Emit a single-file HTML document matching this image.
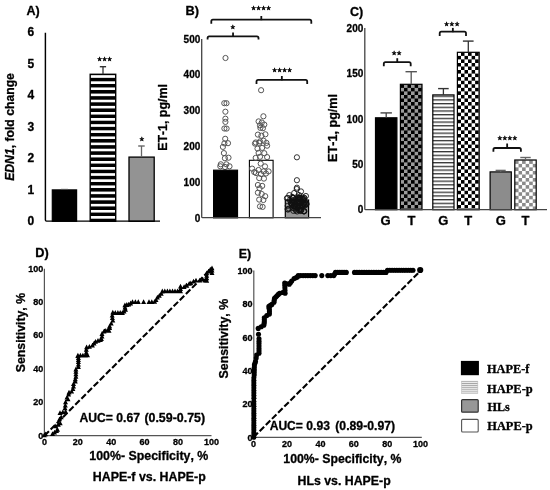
<!DOCTYPE html>
<html><head><meta charset="utf-8"><style>html,body{margin:0;padding:0;background:#fff;overflow:hidden;}svg{display:block;}.t{stroke:#000;stroke-width:0.3px;stroke-linejoin:round;}</style></head>
<body><svg width="550" height="490" viewBox="0 0 550 490"><defs><pattern id="stA" patternUnits="userSpaceOnUse" x="0" y="75.2" width="10" height="6.125"><rect width="10" height="6.125" fill="#000"/><rect width="10" height="2.6" fill="#fff"/></pattern><pattern id="ck1" patternUnits="userSpaceOnUse" x="400.4" y="84.3" width="7.1" height="7.1"><rect width="7.1" height="7.1" fill="#9a9a9a"/><rect width="3.55" height="3.55" fill="#000"/><rect x="3.55" y="3.55" width="3.55" height="3.55" fill="#000"/></pattern><pattern id="ck2" patternUnits="userSpaceOnUse" x="457.4" y="52.3" width="7.1" height="7.1"><rect width="7.1" height="7.1" fill="#000"/><rect width="3.55" height="3.55" fill="#fff"/><rect x="3.55" y="3.55" width="3.55" height="3.55" fill="#fff"/></pattern><pattern id="ck3" patternUnits="userSpaceOnUse" x="515" y="160.3" width="7.1" height="7.1"><rect width="7.1" height="7.1" fill="#fff"/><rect width="3.55" height="3.55" fill="#8a8a8a"/><rect x="3.55" y="3.55" width="3.55" height="3.55" fill="#8a8a8a"/></pattern><pattern id="stC" patternUnits="userSpaceOnUse" x="0" y="99.3" width="10" height="3.693"><rect width="10" height="3.693" fill="#fff"/><rect width="10" height="1.3" fill="#333"/></pattern><pattern id="stL" patternUnits="userSpaceOnUse" x="0" y="381.2" width="10" height="2.05"><rect width="10" height="2.05" fill="#fff"/><rect width="10" height="0.9" fill="#999"/></pattern></defs><rect width="550" height="490" fill="#fff"/>
<text class="t" x="34.30" y="224.96" font-size="12" font-weight="bold" text-anchor="end" font-family='"Liberation Sans", Arial, sans-serif' >0</text>
<text class="t" x="34.30" y="193.51" font-size="12" font-weight="bold" text-anchor="end" font-family='"Liberation Sans", Arial, sans-serif' >1</text>
<text class="t" x="34.30" y="162.06" font-size="12" font-weight="bold" text-anchor="end" font-family='"Liberation Sans", Arial, sans-serif' >2</text>
<text class="t" x="34.30" y="130.61" font-size="12" font-weight="bold" text-anchor="end" font-family='"Liberation Sans", Arial, sans-serif' >3</text>
<text class="t" x="34.30" y="99.16" font-size="12" font-weight="bold" text-anchor="end" font-family='"Liberation Sans", Arial, sans-serif' >4</text>
<text class="t" x="34.30" y="67.71" font-size="12" font-weight="bold" text-anchor="end" font-family='"Liberation Sans", Arial, sans-serif' >5</text>
<text class="t" x="34.30" y="36.26" font-size="12" font-weight="bold" text-anchor="end" font-family='"Liberation Sans", Arial, sans-serif' >6</text>
<rect x="52.30" y="189.90" width="24.30" height="31.40" fill="#000" stroke="#000" stroke-width="1.2"/>
<rect x="90.20" y="74.30" width="25.50" height="147.00" fill="url(#stA)" stroke="#000" stroke-width="1.4"/>
<rect x="129.00" y="157.10" width="25.20" height="64.20" fill="#939393" stroke="#000" stroke-width="1.3"/>
<line x1="103.00" y1="74.30" x2="103.00" y2="66.70" stroke="#333" stroke-width="1.3" />
<line x1="99.80" y1="66.70" x2="106.10" y2="66.70" stroke="#333" stroke-width="1.4" />
<line x1="141.50" y1="157.10" x2="141.50" y2="146.00" stroke="#666" stroke-width="1.3" />
<line x1="138.20" y1="146.00" x2="144.70" y2="146.00" stroke="#666" stroke-width="1.4" />
<line x1="61.00" y1="189.30" x2="68.00" y2="189.30" stroke="#555" stroke-width="0.8" />
<text x="97.02" y="60.90" font-size="5.8" font-family="DejaVu Sans, sans-serif" stroke="#000" stroke-width="0.45" stroke-linejoin="round">&#9733;</text>
<text x="102.02" y="60.90" font-size="5.8" font-family="DejaVu Sans, sans-serif" stroke="#000" stroke-width="0.45" stroke-linejoin="round">&#9733;</text>
<text x="107.02" y="60.90" font-size="5.8" font-family="DejaVu Sans, sans-serif" stroke="#000" stroke-width="0.45" stroke-linejoin="round">&#9733;</text>
<text x="139.32" y="140.90" font-size="5.8" font-family="DejaVu Sans, sans-serif" stroke="#000" stroke-width="0.45" stroke-linejoin="round">&#9733;</text>
<path d="M45.4,32.7 L45.4,220 Q45.4,221.1 46.5,221.1 L160,221.1" fill="none" stroke="#000" stroke-width="1.45"/>
<text class="t" x="200.30" y="221.85" font-size="10" font-weight="bold" text-anchor="end" font-family='"Liberation Sans", Arial, sans-serif' >0</text>
<text class="t" x="200.30" y="186.01" font-size="10" font-weight="bold" text-anchor="end" font-family='"Liberation Sans", Arial, sans-serif' >100</text>
<text class="t" x="200.30" y="150.17" font-size="10" font-weight="bold" text-anchor="end" font-family='"Liberation Sans", Arial, sans-serif' >200</text>
<text class="t" x="200.30" y="114.33" font-size="10" font-weight="bold" text-anchor="end" font-family='"Liberation Sans", Arial, sans-serif' >300</text>
<text class="t" x="200.30" y="78.49" font-size="10" font-weight="bold" text-anchor="end" font-family='"Liberation Sans", Arial, sans-serif' >400</text>
<text class="t" x="200.30" y="42.65" font-size="10" font-weight="bold" text-anchor="end" font-family='"Liberation Sans", Arial, sans-serif' >500</text>
<circle cx="225.5" cy="58" r="2.6" fill="none" stroke="#555" stroke-width="1"/><circle cx="224.3" cy="103.2" r="2.6" fill="none" stroke="#555" stroke-width="1"/><circle cx="226.5" cy="103.2" r="2.6" fill="none" stroke="#555" stroke-width="1"/><circle cx="225.4" cy="111.7" r="2.6" fill="none" stroke="#555" stroke-width="1"/><circle cx="225.4" cy="118.7" r="2.6" fill="none" stroke="#555" stroke-width="1"/><circle cx="225.4" cy="121.9" r="2.6" fill="none" stroke="#555" stroke-width="1"/><circle cx="224.4" cy="128.5" r="2.6" fill="none" stroke="#555" stroke-width="1"/><circle cx="226.6" cy="128.6" r="2.6" fill="none" stroke="#555" stroke-width="1"/><circle cx="225.2" cy="138.8" r="2.6" fill="none" stroke="#555" stroke-width="1"/><circle cx="228" cy="143.2" r="2.6" fill="none" stroke="#555" stroke-width="1"/><circle cx="224.4" cy="143.4" r="2.6" fill="none" stroke="#555" stroke-width="1"/><circle cx="222.9" cy="146.9" r="2.6" fill="none" stroke="#555" stroke-width="1"/><circle cx="223.9" cy="153.1" r="2.6" fill="none" stroke="#555" stroke-width="1"/><circle cx="224.9" cy="158.2" r="2.6" fill="none" stroke="#555" stroke-width="1"/><circle cx="228.5" cy="157.7" r="2.6" fill="none" stroke="#555" stroke-width="1"/><circle cx="220.8" cy="164.3" r="2.6" fill="none" stroke="#555" stroke-width="1"/><circle cx="226.4" cy="164.3" r="2.6" fill="none" stroke="#555" stroke-width="1"/><circle cx="229.5" cy="166.3" r="2.6" fill="none" stroke="#555" stroke-width="1"/><circle cx="220.3" cy="166.3" r="2.6" fill="none" stroke="#555" stroke-width="1"/><circle cx="225" cy="167" r="2.6" fill="none" stroke="#555" stroke-width="1"/>
<rect x="213.60" y="170.20" width="23.90" height="47.60" fill="#000" stroke="#000" stroke-width="1.2"/>
<rect x="249.40" y="160.30" width="23.70" height="57.50" fill="#fff" stroke="#000" stroke-width="1.1"/>
<rect x="285.30" y="200.00" width="23.30" height="17.80" fill="#999" stroke="#000" stroke-width="1.2"/>
<circle cx="261.1" cy="90.2" r="2.6" fill="none" stroke="#555" stroke-width="1"/><circle cx="263.4" cy="116.3" r="2.6" fill="none" stroke="#555" stroke-width="1"/><circle cx="258.6" cy="121.4" r="2.6" fill="none" stroke="#555" stroke-width="1"/><circle cx="261.8" cy="122.5" r="2.6" fill="none" stroke="#555" stroke-width="1"/><circle cx="264.3" cy="124.6" r="2.6" fill="none" stroke="#555" stroke-width="1"/><circle cx="260.0" cy="125.4" r="2.6" fill="none" stroke="#555" stroke-width="1"/><circle cx="260.4" cy="127.9" r="2.6" fill="none" stroke="#555" stroke-width="1"/><circle cx="262.9" cy="128.2" r="2.6" fill="none" stroke="#555" stroke-width="1"/><circle cx="257.9" cy="134.6" r="2.6" fill="none" stroke="#555" stroke-width="1"/><circle cx="261.4" cy="135.7" r="2.6" fill="none" stroke="#555" stroke-width="1"/><circle cx="265.4" cy="134.3" r="2.6" fill="none" stroke="#555" stroke-width="1"/><circle cx="255.7" cy="142.5" r="2.6" fill="none" stroke="#555" stroke-width="1"/><circle cx="260.0" cy="141.4" r="2.6" fill="none" stroke="#555" stroke-width="1"/><circle cx="263.6" cy="140.7" r="2.6" fill="none" stroke="#555" stroke-width="1"/><circle cx="266.4" cy="142.9" r="2.6" fill="none" stroke="#555" stroke-width="1"/><circle cx="255.0" cy="143.6" r="2.6" fill="none" stroke="#555" stroke-width="1"/><circle cx="259.3" cy="142.9" r="2.6" fill="none" stroke="#555" stroke-width="1"/><circle cx="267.1" cy="145.7" r="2.6" fill="none" stroke="#555" stroke-width="1"/><circle cx="257.5" cy="148.6" r="2.6" fill="none" stroke="#555" stroke-width="1"/><circle cx="262.1" cy="147.9" r="2.6" fill="none" stroke="#555" stroke-width="1"/><circle cx="258.6" cy="152.9" r="2.6" fill="none" stroke="#555" stroke-width="1"/><circle cx="264.3" cy="153.2" r="2.6" fill="none" stroke="#555" stroke-width="1"/><circle cx="255.7" cy="157.9" r="2.6" fill="none" stroke="#555" stroke-width="1"/><circle cx="260.0" cy="156.8" r="2.6" fill="none" stroke="#555" stroke-width="1"/><circle cx="267.1" cy="157.1" r="2.6" fill="none" stroke="#555" stroke-width="1"/><circle cx="265.0" cy="166.4" r="2.6" fill="none" stroke="#555" stroke-width="1"/><circle cx="260.7" cy="163.6" r="2.6" fill="none" stroke="#555" stroke-width="1"/><circle cx="258.6" cy="170.0" r="2.6" fill="none" stroke="#555" stroke-width="1"/><circle cx="254.3" cy="172.1" r="2.6" fill="none" stroke="#555" stroke-width="1"/><circle cx="263.6" cy="171.4" r="2.6" fill="none" stroke="#555" stroke-width="1"/><circle cx="268.6" cy="171.4" r="2.6" fill="none" stroke="#555" stroke-width="1"/><circle cx="252.1" cy="168.6" r="2.6" fill="none" stroke="#555" stroke-width="1"/><circle cx="256.0" cy="173.0" r="2.6" fill="none" stroke="#555" stroke-width="1"/><circle cx="266.0" cy="173.5" r="2.6" fill="none" stroke="#555" stroke-width="1"/><circle cx="261.0" cy="174.0" r="2.6" fill="none" stroke="#555" stroke-width="1"/><circle cx="259.2" cy="178.1" r="2.6" fill="none" stroke="#555" stroke-width="1"/><circle cx="263.9" cy="178.6" r="2.6" fill="none" stroke="#555" stroke-width="1"/><circle cx="257.9" cy="185.0" r="2.6" fill="none" stroke="#555" stroke-width="1"/><circle cx="262.2" cy="185.9" r="2.6" fill="none" stroke="#555" stroke-width="1"/><circle cx="259.6" cy="188.4" r="2.6" fill="none" stroke="#555" stroke-width="1"/><circle cx="257.9" cy="192.7" r="2.6" fill="none" stroke="#555" stroke-width="1"/><circle cx="261.7" cy="194.0" r="2.6" fill="none" stroke="#555" stroke-width="1"/><circle cx="265.2" cy="196.2" r="2.6" fill="none" stroke="#555" stroke-width="1"/><circle cx="259.2" cy="199.6" r="2.6" fill="none" stroke="#555" stroke-width="1"/><circle cx="263.4" cy="200.0" r="2.6" fill="none" stroke="#555" stroke-width="1"/><circle cx="260.0" cy="206.4" r="2.6" fill="none" stroke="#555" stroke-width="1"/><circle cx="262.6" cy="206.9" r="2.6" fill="none" stroke="#555" stroke-width="1"/>
<circle cx="296.9" cy="157.3" r="2.6" fill="none" stroke="#111" stroke-width="0.85"/><circle cx="296.9" cy="180.2" r="2.6" fill="none" stroke="#111" stroke-width="0.85"/><circle cx="296.9" cy="187.7" r="2.6" fill="none" stroke="#111" stroke-width="0.85"/><circle cx="296.7" cy="189.0" r="2.6" fill="none" stroke="#111" stroke-width="0.85"/><circle cx="301.0" cy="191.4" r="2.6" fill="none" stroke="#111" stroke-width="0.85"/><circle cx="294.2" cy="193.0" r="2.6" fill="none" stroke="#111" stroke-width="0.85"/><circle cx="289.3" cy="195.1" r="2.6" fill="none" stroke="#111" stroke-width="0.85"/><circle cx="305.9" cy="196.0" r="2.6" fill="none" stroke="#111" stroke-width="0.85"/><circle cx="286.9" cy="198.2" r="2.6" fill="none" stroke="#111" stroke-width="0.85"/><circle cx="292.0" cy="197.0" r="2.6" fill="none" stroke="#111" stroke-width="0.85"/><circle cx="299.0" cy="195.0" r="2.6" fill="none" stroke="#111" stroke-width="0.85"/><circle cx="303.0" cy="199.0" r="2.6" fill="none" stroke="#111" stroke-width="0.85"/><circle cx="291.9" cy="204.9" r="2.6" fill="none" stroke="#111" stroke-width="0.85"/><circle cx="294.5" cy="205.8" r="2.6" fill="none" stroke="#111" stroke-width="0.85"/><circle cx="299.4" cy="198.0" r="2.6" fill="none" stroke="#111" stroke-width="0.85"/><circle cx="287.6" cy="209.1" r="2.6" fill="none" stroke="#111" stroke-width="0.85"/><circle cx="292.3" cy="200.4" r="2.6" fill="none" stroke="#111" stroke-width="0.85"/><circle cx="306.6" cy="203.8" r="2.6" fill="none" stroke="#111" stroke-width="0.85"/><circle cx="303.5" cy="203.9" r="2.6" fill="none" stroke="#111" stroke-width="0.85"/><circle cx="299.7" cy="199.2" r="2.6" fill="none" stroke="#111" stroke-width="0.85"/><circle cx="299.6" cy="209.6" r="2.6" fill="none" stroke="#111" stroke-width="0.85"/><circle cx="297.4" cy="207.7" r="2.6" fill="none" stroke="#111" stroke-width="0.85"/><circle cx="300.3" cy="197.9" r="2.6" fill="none" stroke="#111" stroke-width="0.85"/><circle cx="302.0" cy="205.6" r="2.6" fill="none" stroke="#111" stroke-width="0.85"/><circle cx="293.1" cy="197.4" r="2.6" fill="none" stroke="#111" stroke-width="0.85"/><circle cx="304.1" cy="203.9" r="2.6" fill="none" stroke="#111" stroke-width="0.85"/><circle cx="301.2" cy="209.7" r="2.6" fill="none" stroke="#111" stroke-width="0.85"/><circle cx="301.2" cy="210.4" r="2.6" fill="none" stroke="#111" stroke-width="0.85"/><circle cx="295.0" cy="208.6" r="2.6" fill="none" stroke="#111" stroke-width="0.85"/><circle cx="295.9" cy="210.6" r="2.6" fill="none" stroke="#111" stroke-width="0.85"/><circle cx="304.4" cy="198.4" r="2.6" fill="none" stroke="#111" stroke-width="0.85"/><circle cx="289.9" cy="200.1" r="2.6" fill="none" stroke="#111" stroke-width="0.85"/><circle cx="306.0" cy="203.3" r="2.6" fill="none" stroke="#111" stroke-width="0.85"/><circle cx="299.5" cy="201.4" r="2.6" fill="none" stroke="#111" stroke-width="0.85"/><circle cx="297.1" cy="202.6" r="2.6" fill="none" stroke="#111" stroke-width="0.85"/><circle cx="294.1" cy="205.5" r="2.6" fill="none" stroke="#111" stroke-width="0.85"/><circle cx="298.6" cy="210.1" r="2.6" fill="none" stroke="#111" stroke-width="0.85"/><circle cx="300.5" cy="210.5" r="2.6" fill="none" stroke="#111" stroke-width="0.85"/><circle cx="303.9" cy="211.4" r="2.6" fill="none" stroke="#111" stroke-width="0.85"/><circle cx="300.3" cy="199.4" r="2.6" fill="none" stroke="#111" stroke-width="0.85"/><circle cx="304.0" cy="211.0" r="2.6" fill="none" stroke="#111" stroke-width="0.85"/><circle cx="304.9" cy="205.3" r="2.6" fill="none" stroke="#111" stroke-width="0.85"/><circle cx="301.1" cy="200.1" r="2.6" fill="none" stroke="#111" stroke-width="0.85"/><circle cx="303.4" cy="205.3" r="2.6" fill="none" stroke="#111" stroke-width="0.85"/><circle cx="292.8" cy="197.9" r="2.6" fill="none" stroke="#111" stroke-width="0.85"/><circle cx="303.9" cy="211.4" r="2.6" fill="none" stroke="#111" stroke-width="0.85"/><circle cx="289.0" cy="208.6" r="2.6" fill="none" stroke="#111" stroke-width="0.85"/><circle cx="295.3" cy="199.2" r="2.6" fill="none" stroke="#111" stroke-width="0.85"/><circle cx="293.0" cy="208.1" r="2.6" fill="none" stroke="#111" stroke-width="0.85"/><circle cx="304.2" cy="197.6" r="2.6" fill="none" stroke="#111" stroke-width="0.85"/><circle cx="299.2" cy="197.7" r="2.6" fill="none" stroke="#111" stroke-width="0.85"/><circle cx="301.2" cy="201.8" r="2.6" fill="none" stroke="#111" stroke-width="0.85"/><circle cx="304.4" cy="211.2" r="2.6" fill="none" stroke="#111" stroke-width="0.85"/><circle cx="297.1" cy="211.5" r="2.6" fill="none" stroke="#111" stroke-width="0.85"/><circle cx="293.3" cy="198.1" r="2.6" fill="none" stroke="#111" stroke-width="0.85"/><circle cx="298.9" cy="197.5" r="2.6" fill="none" stroke="#111" stroke-width="0.85"/><circle cx="291.1" cy="202.9" r="2.6" fill="none" stroke="#111" stroke-width="0.85"/><circle cx="299.1" cy="199.3" r="2.6" fill="none" stroke="#111" stroke-width="0.85"/><circle cx="288.1" cy="209.6" r="2.6" fill="none" stroke="#111" stroke-width="0.85"/><circle cx="293.4" cy="210.9" r="2.6" fill="none" stroke="#111" stroke-width="0.85"/><circle cx="304.7" cy="202.5" r="2.6" fill="none" stroke="#111" stroke-width="0.85"/><circle cx="296.2" cy="204.5" r="2.6" fill="none" stroke="#111" stroke-width="0.85"/><circle cx="299.8" cy="205.6" r="2.6" fill="none" stroke="#111" stroke-width="0.85"/><circle cx="298.1" cy="206.0" r="2.6" fill="none" stroke="#111" stroke-width="0.85"/><circle cx="305.5" cy="204.4" r="2.6" fill="none" stroke="#111" stroke-width="0.85"/><circle cx="295.7" cy="207.4" r="2.6" fill="none" stroke="#111" stroke-width="0.85"/><circle cx="291.9" cy="201.4" r="2.6" fill="none" stroke="#111" stroke-width="0.85"/><circle cx="306.3" cy="204.6" r="2.6" fill="none" stroke="#111" stroke-width="0.85"/><circle cx="297.9" cy="197.2" r="2.6" fill="none" stroke="#111" stroke-width="0.85"/><circle cx="295.4" cy="205.4" r="2.6" fill="none" stroke="#111" stroke-width="0.85"/><circle cx="287.7" cy="205.9" r="2.6" fill="none" stroke="#111" stroke-width="0.85"/><circle cx="299.6" cy="197.9" r="2.6" fill="none" stroke="#111" stroke-width="0.85"/><circle cx="299.5" cy="203.8" r="2.6" fill="none" stroke="#111" stroke-width="0.85"/><circle cx="300.5" cy="202.1" r="2.6" fill="none" stroke="#111" stroke-width="0.85"/><circle cx="301.0" cy="207.7" r="2.6" fill="none" stroke="#111" stroke-width="0.85"/><circle cx="287.7" cy="197.9" r="2.6" fill="none" stroke="#111" stroke-width="0.85"/><circle cx="300.4" cy="211.0" r="2.6" fill="none" stroke="#111" stroke-width="0.85"/><circle cx="292.2" cy="203.6" r="2.6" fill="none" stroke="#111" stroke-width="0.85"/><circle cx="298.8" cy="201.6" r="2.6" fill="none" stroke="#111" stroke-width="0.85"/><circle cx="294.4" cy="201.5" r="2.6" fill="none" stroke="#111" stroke-width="0.85"/><circle cx="294.5" cy="205.6" r="2.6" fill="none" stroke="#111" stroke-width="0.85"/><circle cx="293.1" cy="202.5" r="2.6" fill="none" stroke="#111" stroke-width="0.85"/><circle cx="302.3" cy="197.4" r="2.6" fill="none" stroke="#111" stroke-width="0.85"/><circle cx="298.3" cy="207.7" r="2.6" fill="none" stroke="#111" stroke-width="0.85"/><circle cx="293.3" cy="200.2" r="2.6" fill="none" stroke="#111" stroke-width="0.85"/><circle cx="302.9" cy="200.5" r="2.6" fill="none" stroke="#111" stroke-width="0.85"/><circle cx="290.9" cy="203.3" r="2.6" fill="none" stroke="#111" stroke-width="0.85"/><circle cx="300.8" cy="198.5" r="2.6" fill="none" stroke="#111" stroke-width="0.85"/><circle cx="293.5" cy="201.8" r="2.6" fill="none" stroke="#111" stroke-width="0.85"/><circle cx="303.5" cy="203.4" r="2.6" fill="none" stroke="#111" stroke-width="0.85"/><circle cx="303.9" cy="199.5" r="2.6" fill="none" stroke="#111" stroke-width="0.85"/><circle cx="293.8" cy="206.4" r="2.6" fill="none" stroke="#111" stroke-width="0.85"/>
<path d="M201.7,39 L201.7,216.8 Q201.7,217.7 202.6,217.7 L321,217.7" fill="none" stroke="#444" stroke-width="1.3"/>
<path d="M211.30,23.70 L211.30,21.30 Q211.30,19.70 212.90,19.70 L309.70,19.70 Q311.30,19.70 311.30,21.30 L311.30,23.70" fill="none" stroke="#111" stroke-width="1.8"/>
<line x1="261.30" y1="20.20" x2="261.30" y2="16.00" stroke="#111" stroke-width="1.8" />
<text x="251.12" y="9.60" font-size="5.8" font-family="DejaVu Sans, sans-serif" stroke="#000" stroke-width="0.45" stroke-linejoin="round">&#9733;</text>
<text x="256.12" y="9.60" font-size="5.8" font-family="DejaVu Sans, sans-serif" stroke="#000" stroke-width="0.45" stroke-linejoin="round">&#9733;</text>
<text x="261.12" y="9.60" font-size="5.8" font-family="DejaVu Sans, sans-serif" stroke="#000" stroke-width="0.45" stroke-linejoin="round">&#9733;</text>
<text x="266.12" y="9.60" font-size="5.8" font-family="DejaVu Sans, sans-serif" stroke="#000" stroke-width="0.45" stroke-linejoin="round">&#9733;</text>
<path d="M207.60,39.40 L207.60,38.00 Q207.60,36.40 209.20,36.40 L256.90,36.40 Q258.50,36.40 258.50,38.00 L258.50,39.40" fill="none" stroke="#111" stroke-width="1.8"/>
<line x1="233.05" y1="36.90" x2="233.05" y2="32.60" stroke="#111" stroke-width="1.8" />
<text x="230.22" y="28.90" font-size="5.8" font-family="DejaVu Sans, sans-serif" stroke="#000" stroke-width="0.45" stroke-linejoin="round">&#9733;</text>
<path d="M256.50,83.90 L256.50,81.50 Q256.50,79.90 258.10,79.90 L305.60,79.90 Q307.20,79.90 307.20,81.50 L307.20,83.90" fill="none" stroke="#111" stroke-width="1.8"/>
<line x1="281.85" y1="80.40" x2="281.85" y2="76.00" stroke="#111" stroke-width="1.8" />
<text x="272.12" y="71.80" font-size="5.8" font-family="DejaVu Sans, sans-serif" stroke="#000" stroke-width="0.45" stroke-linejoin="round">&#9733;</text>
<text x="277.12" y="71.80" font-size="5.8" font-family="DejaVu Sans, sans-serif" stroke="#000" stroke-width="0.45" stroke-linejoin="round">&#9733;</text>
<text x="282.12" y="71.80" font-size="5.8" font-family="DejaVu Sans, sans-serif" stroke="#000" stroke-width="0.45" stroke-linejoin="round">&#9733;</text>
<text x="287.12" y="71.80" font-size="5.8" font-family="DejaVu Sans, sans-serif" stroke="#000" stroke-width="0.45" stroke-linejoin="round">&#9733;</text>
<text class="t" x="363.30" y="213.45" font-size="10" font-weight="bold" text-anchor="end" font-family='"Liberation Sans", Arial, sans-serif' >0</text>
<text class="t" x="363.30" y="168.00" font-size="10" font-weight="bold" text-anchor="end" font-family='"Liberation Sans", Arial, sans-serif' >50</text>
<text class="t" x="363.30" y="122.55" font-size="10" font-weight="bold" text-anchor="end" font-family='"Liberation Sans", Arial, sans-serif' >100</text>
<text class="t" x="363.30" y="77.10" font-size="10" font-weight="bold" text-anchor="end" font-family='"Liberation Sans", Arial, sans-serif' >150</text>
<text class="t" x="363.30" y="31.65" font-size="10" font-weight="bold" text-anchor="end" font-family='"Liberation Sans", Arial, sans-serif' >200</text>
<rect x="375.50" y="117.80" width="21.40" height="91.90" fill="#000" stroke="#000" stroke-width="1.2"/>
<rect x="400.40" y="84.30" width="21.60" height="125.40" fill="url(#ck1)" stroke="#000" stroke-width="1.2"/>
<rect x="432.80" y="94.90" width="21.20" height="114.80" fill="url(#stC)" stroke="#000" stroke-width="1.2"/>
<rect x="457.40" y="52.30" width="21.80" height="157.40" fill="url(#ck2)" stroke="#000" stroke-width="1.2"/>
<rect x="490.10" y="171.90" width="21.20" height="37.80" fill="#8c8c8c" stroke="#000" stroke-width="1.2"/>
<rect x="514.80" y="160.00" width="21.40" height="49.70" fill="url(#ck3)" stroke="#000" stroke-width="1.2"/>
<line x1="386.20" y1="117.80" x2="386.20" y2="112.90" stroke="#444" stroke-width="1.3" />
<line x1="380.50" y1="112.90" x2="391.90" y2="112.90" stroke="#444" stroke-width="1.4" />
<line x1="411.20" y1="84.30" x2="411.20" y2="71.70" stroke="#555" stroke-width="1.3" />
<line x1="405.50" y1="71.70" x2="416.90" y2="71.70" stroke="#555" stroke-width="1.4" />
<line x1="443.40" y1="94.90" x2="443.40" y2="88.60" stroke="#333" stroke-width="1.3" />
<line x1="438.10" y1="88.60" x2="448.70" y2="88.60" stroke="#333" stroke-width="1.4" />
<line x1="468.30" y1="52.30" x2="468.30" y2="41.10" stroke="#333" stroke-width="1.3" />
<line x1="462.90" y1="41.10" x2="473.60" y2="41.10" stroke="#333" stroke-width="1.4" />
<line x1="500.70" y1="171.90" x2="500.70" y2="170.40" stroke="#666" stroke-width="1.3" />
<line x1="495.60" y1="170.40" x2="505.70" y2="170.40" stroke="#666" stroke-width="1.4" />
<line x1="525.50" y1="160.00" x2="525.50" y2="157.50" stroke="#666" stroke-width="1.3" />
<line x1="520.30" y1="157.50" x2="530.70" y2="157.50" stroke="#666" stroke-width="1.4" />
<path d="M364.8,28 L364.8,208.8 Q364.8,209.7 365.7,209.7 L547,209.7" fill="none" stroke="#444" stroke-width="1.3"/>
<path d="M383.80,66.20 L383.80,63.80 Q383.80,62.20 385.40,62.20 L409.10,62.20 Q410.70,62.20 410.70,63.80 L410.70,66.20" fill="none" stroke="#111" stroke-width="1.8"/>
<line x1="397.25" y1="62.70" x2="397.25" y2="58.20" stroke="#111" stroke-width="1.8" />
<text x="391.52" y="55.30" font-size="5.8" font-family="DejaVu Sans, sans-serif" stroke="#000" stroke-width="0.45" stroke-linejoin="round">&#9733;</text>
<text x="396.62" y="55.30" font-size="5.8" font-family="DejaVu Sans, sans-serif" stroke="#000" stroke-width="0.45" stroke-linejoin="round">&#9733;</text>
<path d="M439.70,36.00 L439.70,33.30 Q439.70,31.70 441.30,31.70 L464.40,31.70 Q466.00,31.70 466.00,33.30 L466.00,36.00" fill="none" stroke="#111" stroke-width="1.8"/>
<line x1="452.85" y1="32.20" x2="452.85" y2="27.90" stroke="#111" stroke-width="1.8" />
<text x="443.92" y="25.70" font-size="5.8" font-family="DejaVu Sans, sans-serif" stroke="#000" stroke-width="0.45" stroke-linejoin="round">&#9733;</text>
<text x="449.17" y="25.70" font-size="5.8" font-family="DejaVu Sans, sans-serif" stroke="#000" stroke-width="0.45" stroke-linejoin="round">&#9733;</text>
<text x="454.42" y="25.70" font-size="5.8" font-family="DejaVu Sans, sans-serif" stroke="#000" stroke-width="0.45" stroke-linejoin="round">&#9733;</text>
<path d="M493.40,151.70 L493.40,149.60 Q493.40,148.00 495.00,148.00 L519.30,148.00 Q520.90,148.00 520.90,149.60 L520.90,151.70" fill="none" stroke="#111" stroke-width="1.8"/>
<line x1="507.15" y1="148.50" x2="507.15" y2="143.50" stroke="#111" stroke-width="1.8" />
<text x="497.22" y="140.20" font-size="5.8" font-family="DejaVu Sans, sans-serif" stroke="#000" stroke-width="0.45" stroke-linejoin="round">&#9733;</text>
<text x="502.22" y="140.20" font-size="5.8" font-family="DejaVu Sans, sans-serif" stroke="#000" stroke-width="0.45" stroke-linejoin="round">&#9733;</text>
<text x="507.22" y="140.20" font-size="5.8" font-family="DejaVu Sans, sans-serif" stroke="#000" stroke-width="0.45" stroke-linejoin="round">&#9733;</text>
<text x="512.22" y="140.20" font-size="5.8" font-family="DejaVu Sans, sans-serif" stroke="#000" stroke-width="0.45" stroke-linejoin="round">&#9733;</text>
<text class="t" x="385.60" y="225.30" font-size="13" font-weight="bold" text-anchor="middle" font-family='"Liberation Sans", Arial, sans-serif' >G</text>
<text class="t" x="411.40" y="225.30" font-size="13" font-weight="bold" text-anchor="middle" font-family='"Liberation Sans", Arial, sans-serif' >T</text>
<text class="t" x="443.40" y="225.30" font-size="13" font-weight="bold" text-anchor="middle" font-family='"Liberation Sans", Arial, sans-serif' >G</text>
<text class="t" x="468.30" y="225.30" font-size="13" font-weight="bold" text-anchor="middle" font-family='"Liberation Sans", Arial, sans-serif' >T</text>
<text class="t" x="500.70" y="225.30" font-size="13" font-weight="bold" text-anchor="middle" font-family='"Liberation Sans", Arial, sans-serif' >G</text>
<text class="t" x="525.50" y="225.30" font-size="13" font-weight="bold" text-anchor="middle" font-family='"Liberation Sans", Arial, sans-serif' >T</text>
<text class="t" x="43.20" y="438.69" font-size="9" font-weight="bold" text-anchor="end" font-family='"Liberation Sans", Arial, sans-serif' >0</text>
<text class="t" x="43.20" y="405.25" font-size="9" font-weight="bold" text-anchor="end" font-family='"Liberation Sans", Arial, sans-serif' >20</text>
<text class="t" x="43.20" y="371.81" font-size="9" font-weight="bold" text-anchor="end" font-family='"Liberation Sans", Arial, sans-serif' >40</text>
<text class="t" x="43.20" y="338.38" font-size="9" font-weight="bold" text-anchor="end" font-family='"Liberation Sans", Arial, sans-serif' >60</text>
<text class="t" x="43.20" y="304.94" font-size="9" font-weight="bold" text-anchor="end" font-family='"Liberation Sans", Arial, sans-serif' >80</text>
<text class="t" x="43.20" y="271.50" font-size="9" font-weight="bold" text-anchor="end" font-family='"Liberation Sans", Arial, sans-serif' >100</text>
<text class="t" x="44.40" y="444.50" font-size="9" font-weight="bold" text-anchor="middle" font-family='"Liberation Sans", Arial, sans-serif' >0</text>
<text class="t" x="77.80" y="444.50" font-size="9" font-weight="bold" text-anchor="middle" font-family='"Liberation Sans", Arial, sans-serif' >20</text>
<text class="t" x="111.20" y="444.50" font-size="9" font-weight="bold" text-anchor="middle" font-family='"Liberation Sans", Arial, sans-serif' >40</text>
<text class="t" x="144.60" y="444.50" font-size="9" font-weight="bold" text-anchor="middle" font-family='"Liberation Sans", Arial, sans-serif' >60</text>
<text class="t" x="178.00" y="444.50" font-size="9" font-weight="bold" text-anchor="middle" font-family='"Liberation Sans", Arial, sans-serif' >80</text>
<text class="t" x="211.40" y="444.50" font-size="9" font-weight="bold" text-anchor="middle" font-family='"Liberation Sans", Arial, sans-serif' >100</text>
<path d="M44.4,268.8 L44.4,435.6 L211.5,435.6" fill="none" stroke="#555" stroke-width="1.2"/>
<line x1="44.50" y1="435.60" x2="211.50" y2="268.40" stroke="#000" stroke-width="2.1" stroke-dasharray="6.3 2.4"/>
<path d="M41.80,437.20L44.30,432.40L46.80,437.20ZM43.00,436.20L45.50,431.40L48.00,436.20ZM50.00,436.00L52.50,431.20L55.00,436.00ZM52.00,434.50L54.50,429.70L57.00,434.50ZM54.00,433.00L56.50,428.20L59.00,433.00ZM55.00,431.80L57.50,427.00L60.00,431.80ZM53.30,428.20L55.80,423.40L58.30,428.20ZM55.80,426.70L58.30,421.90L60.80,426.70ZM57.70,425.20L60.20,420.40L62.70,425.20ZM57.00,421.20L59.50,416.40L62.00,421.20ZM58.70,419.20L61.20,414.40L63.70,419.20ZM57.50,415.00L60.00,410.20L62.50,415.00ZM60.30,414.30L62.80,409.50L65.30,414.30ZM63.10,413.70L65.60,408.90L68.10,413.70ZM62.50,410.20L65.00,405.40L67.50,410.20ZM62.80,407.50L65.30,402.70L67.80,407.50ZM63.00,404.20L65.50,399.40L68.00,404.20ZM65.50,401.20L68.00,396.40L70.50,401.20ZM64.50,399.50L67.00,394.70L69.50,399.50ZM66.10,396.50L68.60,391.70L71.10,396.50ZM66.50,394.50L69.00,389.70L71.50,394.50ZM69.10,393.50L71.60,388.70L74.10,393.50ZM70.40,391.00L72.90,386.20L75.40,391.00ZM71.00,388.50L73.50,383.70L76.00,388.50ZM71.00,386.10L73.50,381.30L76.00,386.10ZM72.80,383.50L75.30,378.70L77.80,383.50ZM72.80,381.20L75.30,376.40L77.80,381.20ZM73.40,378.80L75.90,374.00L78.40,378.80ZM73.40,376.30L75.90,371.50L78.40,376.30ZM73.40,373.80L75.90,369.00L78.40,373.80ZM73.40,371.40L75.90,366.60L78.40,371.40ZM75.90,369.00L78.40,364.20L80.90,369.00ZM75.90,366.50L78.40,361.70L80.90,366.50ZM75.90,364.00L78.40,359.20L80.90,364.00ZM75.90,362.00L78.40,357.20L80.90,362.00ZM75.90,360.00L78.40,355.20L80.90,360.00ZM75.40,358.00L77.90,353.20L80.40,358.00ZM75.40,357.50L77.90,352.70L80.40,357.50ZM77.90,357.50L80.40,352.70L82.90,357.50ZM80.40,357.50L82.90,352.70L85.40,357.50ZM82.90,357.50L85.40,352.70L87.90,357.50ZM85.00,357.30L87.50,352.50L90.00,357.30ZM83.80,354.50L86.30,349.70L88.80,354.50ZM83.80,351.80L86.30,347.00L88.80,351.80ZM84.10,349.30L86.60,344.50L89.10,349.30ZM86.90,348.70L89.40,343.90L91.90,348.70ZM89.90,347.50L92.40,342.70L94.90,347.50ZM91.50,345.50L94.00,340.70L96.50,345.50ZM93.00,343.80L95.50,339.00L98.00,343.80ZM95.50,342.80L98.00,338.00L100.50,342.80ZM97.90,342.00L100.40,337.20L102.90,342.00ZM98.90,341.00L101.40,336.20L103.90,341.00ZM99.50,338.50L102.00,333.70L104.50,338.50ZM99.50,335.90L102.00,331.10L104.50,335.90ZM101.50,333.50L104.00,328.70L106.50,333.50ZM102.70,332.70L105.20,327.90L107.70,332.70ZM104.70,332.70L107.20,327.90L109.70,332.70ZM106.50,332.70L109.00,327.90L111.50,332.70ZM107.10,330.00L109.60,325.20L112.10,330.00ZM107.10,328.30L109.60,323.50L112.10,328.30ZM108.70,325.50L111.20,320.70L113.70,325.50ZM110.30,322.50L112.80,317.70L115.30,322.50ZM109.90,320.00L112.40,315.20L114.90,320.00ZM109.70,317.50L112.20,312.70L114.70,317.50ZM110.30,314.50L112.80,309.70L115.30,314.50ZM112.80,314.90L115.30,310.10L117.80,314.90ZM115.40,314.90L117.90,310.10L120.40,314.90ZM117.70,314.90L120.20,310.10L122.70,314.90ZM119.90,314.90L122.40,310.10L124.90,314.90ZM121.50,313.50L124.00,308.70L126.50,313.50ZM123.00,311.70L125.50,306.90L128.00,311.70ZM122.50,309.50L125.00,304.70L127.50,309.50ZM122.40,307.30L124.90,302.50L127.40,307.30ZM124.30,306.90L126.80,302.10L129.30,306.90ZM126.20,306.60L128.70,301.80L131.20,306.60ZM128.10,305.40L130.60,300.60L133.10,305.40ZM130.00,304.10L132.50,299.30L135.00,304.10ZM132.90,304.10L135.40,299.30L137.90,304.10ZM135.80,304.10L138.30,299.30L140.80,304.10ZM141.10,304.10L143.60,299.30L146.10,304.10ZM146.50,304.10L149.00,299.30L151.50,304.10ZM149.30,304.10L151.80,299.30L154.30,304.10ZM152.10,303.80L154.60,299.00L157.10,303.80ZM153.50,302.00L156.00,297.20L158.50,302.00ZM154.90,299.60L157.40,294.80L159.90,299.60ZM156.80,297.70L159.30,292.90L161.80,297.70ZM158.70,295.80L161.20,291.00L163.70,295.80ZM159.80,293.40L162.30,288.60L164.80,293.40ZM162.30,293.20L164.80,288.40L167.30,293.20ZM164.90,293.20L167.40,288.40L169.90,293.20ZM167.40,293.20L169.90,288.40L172.40,293.20ZM170.00,293.20L172.50,288.40L175.00,293.20ZM172.50,293.20L175.00,288.40L177.50,293.20ZM175.00,293.20L177.50,288.40L180.00,293.20ZM178.00,293.20L180.50,288.40L183.00,293.20ZM178.00,291.00L180.50,286.20L183.00,291.00ZM178.00,288.50L180.50,283.70L183.00,288.50ZM181.60,289.00L184.10,284.20L186.60,289.00ZM183.80,287.50L186.30,282.70L188.80,287.50ZM184.30,287.70L186.80,282.90L189.30,287.70ZM186.70,285.70L189.20,280.90L191.70,285.70ZM188.30,285.20L190.80,280.40L193.30,285.20ZM191.00,283.50L193.50,278.70L196.00,283.50ZM193.50,282.60L196.00,277.80L198.50,282.60ZM197.20,282.50L199.70,277.70L202.20,282.50ZM200.30,281.60L202.80,276.80L205.30,281.60ZM202.50,282.50L205.00,277.70L207.50,282.50ZM204.20,282.80L206.70,278.00L209.20,282.80ZM204.20,280.30L206.70,275.50L209.20,280.30ZM204.20,277.80L206.70,273.00L209.20,277.80ZM204.20,275.30L206.70,270.50L209.20,275.30ZM206.00,273.50L208.50,268.70L211.00,273.50ZM207.80,271.50L210.30,266.70L212.80,271.50ZM209.50,270.20L212.00,265.40L214.50,270.20ZM209.50,272.50L212.00,267.70L214.50,272.50ZM209.50,275.00L212.00,270.20L214.50,275.00Z" fill="#000"/>
<text class="t" x="252.60" y="440.50" font-size="9" font-weight="bold" text-anchor="end" font-family='"Liberation Sans", Arial, sans-serif' >0</text>
<text class="t" x="252.60" y="407.19" font-size="9" font-weight="bold" text-anchor="end" font-family='"Liberation Sans", Arial, sans-serif' >20</text>
<text class="t" x="252.60" y="373.90" font-size="9" font-weight="bold" text-anchor="end" font-family='"Liberation Sans", Arial, sans-serif' >40</text>
<text class="t" x="252.60" y="340.59" font-size="9" font-weight="bold" text-anchor="end" font-family='"Liberation Sans", Arial, sans-serif' >60</text>
<text class="t" x="252.60" y="307.30" font-size="9" font-weight="bold" text-anchor="end" font-family='"Liberation Sans", Arial, sans-serif' >80</text>
<text class="t" x="252.60" y="274.00" font-size="9" font-weight="bold" text-anchor="end" font-family='"Liberation Sans", Arial, sans-serif' >100</text>
<text class="t" x="253.60" y="446.60" font-size="9" font-weight="bold" text-anchor="middle" font-family='"Liberation Sans", Arial, sans-serif' >0</text>
<text class="t" x="287.00" y="446.60" font-size="9" font-weight="bold" text-anchor="middle" font-family='"Liberation Sans", Arial, sans-serif' >20</text>
<text class="t" x="320.40" y="446.60" font-size="9" font-weight="bold" text-anchor="middle" font-family='"Liberation Sans", Arial, sans-serif' >40</text>
<text class="t" x="353.80" y="446.60" font-size="9" font-weight="bold" text-anchor="middle" font-family='"Liberation Sans", Arial, sans-serif' >60</text>
<text class="t" x="387.20" y="446.60" font-size="9" font-weight="bold" text-anchor="middle" font-family='"Liberation Sans", Arial, sans-serif' >80</text>
<text class="t" x="420.60" y="446.60" font-size="9" font-weight="bold" text-anchor="middle" font-family='"Liberation Sans", Arial, sans-serif' >100</text>
<path d="M253.8,270.6 L253.8,437.4 L421.8,437.4" fill="none" stroke="#555" stroke-width="1.2"/>
<line x1="253.50" y1="437.30" x2="420.10" y2="271.20" stroke="#000" stroke-width="2.1" stroke-dasharray="6.3 2.4"/>
<g fill="#000"><circle cx="253.9" cy="437.3" r="2.55"/><circle cx="253.9" cy="434.9" r="2.55"/><circle cx="253.9" cy="432.5" r="2.55"/><circle cx="253.9" cy="430.1" r="2.55"/><circle cx="253.9" cy="427.8" r="2.55"/><circle cx="253.9" cy="425.4" r="2.55"/><circle cx="253.9" cy="423.0" r="2.55"/><circle cx="253.9" cy="420.6" r="2.55"/><circle cx="253.9" cy="418.2" r="2.55"/><circle cx="253.9" cy="415.8" r="2.55"/><circle cx="253.9" cy="413.4" r="2.55"/><circle cx="253.9" cy="411.0" r="2.55"/><circle cx="253.9" cy="408.7" r="2.55"/><circle cx="253.9" cy="406.3" r="2.55"/><circle cx="253.9" cy="403.9" r="2.55"/><circle cx="253.9" cy="401.5" r="2.55"/><circle cx="253.9" cy="398.2" r="2.55"/><circle cx="253.9" cy="395.6" r="2.55"/><circle cx="253.9" cy="393.1" r="2.55"/><circle cx="253.9" cy="390.6" r="2.55"/><circle cx="253.9" cy="388.0" r="2.55"/><circle cx="253.9" cy="385.4" r="2.55"/><circle cx="253.9" cy="382.9" r="2.55"/><circle cx="253.9" cy="380.4" r="2.55"/><circle cx="253.9" cy="377.8" r="2.55"/><circle cx="254.2" cy="375.0" r="2.55"/><circle cx="254.2" cy="372.5" r="2.55"/><circle cx="254.3" cy="370.0" r="2.55"/><circle cx="254.3" cy="367.5" r="2.55"/><circle cx="254.4" cy="365.0" r="2.55"/><circle cx="254.9" cy="363.2" r="2.55"/><circle cx="255.5" cy="361.5" r="2.55"/><circle cx="256.2" cy="358.0" r="2.55"/><circle cx="256.6" cy="355.0" r="2.55"/><circle cx="259.0" cy="353.3" r="2.55"/><circle cx="259.0" cy="350.9" r="2.55"/><circle cx="259.0" cy="348.5" r="2.55"/><circle cx="259.0" cy="346.1" r="2.55"/><circle cx="259.0" cy="343.6" r="2.55"/><circle cx="259.0" cy="341.2" r="2.55"/><circle cx="259.0" cy="338.8" r="2.55"/><circle cx="258.5" cy="334.2" r="2.55"/><circle cx="258.2" cy="328.4" r="2.55"/><circle cx="261.2" cy="326.8" r="2.55"/><circle cx="263.8" cy="325.3" r="2.55"/><circle cx="264.1" cy="323.5" r="2.55"/><circle cx="264.3" cy="321.7" r="2.55"/><circle cx="264.3" cy="319.7" r="2.55"/><circle cx="264.3" cy="317.7" r="2.55"/><circle cx="266.8" cy="315.6" r="2.55"/><circle cx="269.4" cy="314.1" r="2.55"/><circle cx="269.4" cy="312.1" r="2.55"/><circle cx="269.4" cy="310.0" r="2.55"/><circle cx="269.1" cy="308.2" r="2.55"/><circle cx="268.9" cy="306.4" r="2.55"/><circle cx="270.4" cy="305.4" r="2.55"/><circle cx="271.9" cy="304.4" r="2.55"/><circle cx="274.0" cy="302.3" r="2.55"/><circle cx="274.2" cy="300.3" r="2.55"/><circle cx="274.5" cy="298.3" r="2.55"/><circle cx="275.8" cy="297.0" r="2.55"/><circle cx="277.0" cy="295.7" r="2.55"/><circle cx="278.3" cy="294.4" r="2.55"/><circle cx="279.6" cy="293.2" r="2.55"/><circle cx="282.7" cy="292.5" r="2.55"/><circle cx="285.1" cy="293.3" r="2.55"/><circle cx="285.0" cy="290.6" r="2.55"/><circle cx="284.9" cy="288.0" r="2.55"/><circle cx="284.8" cy="285.6" r="2.55"/><circle cx="284.7" cy="283.1" r="2.55"/><circle cx="286.9" cy="283.7" r="2.55"/><circle cx="289.2" cy="284.3" r="2.55"/><circle cx="290.4" cy="282.7" r="2.55"/><circle cx="291.7" cy="281.1" r="2.55"/><circle cx="294.1" cy="278.6" r="2.55"/><circle cx="295.8" cy="277.8" r="2.55"/><circle cx="297.4" cy="277.0" r="2.55"/><circle cx="298.2" cy="275.6" r="2.55"/><circle cx="300.6" cy="275.6" r="2.55"/><circle cx="303.1" cy="275.6" r="2.55"/><circle cx="305.5" cy="275.6" r="2.55"/><circle cx="307.9" cy="275.6" r="2.55"/><circle cx="310.3" cy="275.6" r="2.55"/><circle cx="312.8" cy="275.6" r="2.55"/><circle cx="315.2" cy="275.6" r="2.55"/><circle cx="321.8" cy="275.6" r="2.55"/><circle cx="327.8" cy="275.6" r="2.55"/><circle cx="330.8" cy="275.6" r="2.55"/><circle cx="333.8" cy="275.6" r="2.55"/><circle cx="334.6" cy="274.0" r="2.55"/><circle cx="335.5" cy="272.4" r="2.55"/><circle cx="337.7" cy="272.4" r="2.55"/><circle cx="339.8" cy="272.4" r="2.55"/><circle cx="342.0" cy="272.4" r="2.55"/><circle cx="344.1" cy="272.4" r="2.55"/><circle cx="346.3" cy="272.4" r="2.55"/><circle cx="354.5" cy="272.4" r="2.55"/><circle cx="356.9" cy="272.4" r="2.55"/><circle cx="359.3" cy="272.4" r="2.55"/><circle cx="361.8" cy="272.4" r="2.55"/><circle cx="364.2" cy="272.4" r="2.55"/><circle cx="366.6" cy="272.4" r="2.55"/><circle cx="369.0" cy="272.4" r="2.55"/><circle cx="371.5" cy="272.4" r="2.55"/><circle cx="373.9" cy="272.4" r="2.55"/><circle cx="376.3" cy="272.4" r="2.55"/><circle cx="378.7" cy="272.4" r="2.55"/><circle cx="381.2" cy="272.4" r="2.55"/><circle cx="383.6" cy="272.4" r="2.55"/><circle cx="386.0" cy="272.4" r="2.55"/><circle cx="387.5" cy="270.2" r="2.55"/><circle cx="389.8" cy="270.2" r="2.55"/><circle cx="392.1" cy="270.2" r="2.55"/><circle cx="394.5" cy="270.2" r="2.55"/><circle cx="396.8" cy="270.2" r="2.55"/><circle cx="399.1" cy="270.2" r="2.55"/><circle cx="401.4" cy="270.2" r="2.55"/><circle cx="403.7" cy="270.2" r="2.55"/><circle cx="406.0" cy="270.2" r="2.55"/><circle cx="408.4" cy="270.2" r="2.55"/><circle cx="410.7" cy="270.2" r="2.55"/><circle cx="413.0" cy="270.2" r="2.55"/><circle cx="420.2" cy="270" r="3.1"/></g>
<rect x="461.50" y="361.50" width="16.80" height="13.10" fill="#000" stroke="#000" stroke-width="1.2"/>
<rect x="461.60" y="381.20" width="16.20" height="12.30" fill="url(#stL)" stroke="#bbb" stroke-width="0.6"/>
<rect x="461.6" y="399.6" width="16.6" height="12.6" rx="1" fill="#979797" stroke="#333" stroke-width="1.2"/>
<rect x="461.6" y="419.4" width="16.6" height="12.6" rx="1" fill="#fff" stroke="#555" stroke-width="1.1"/>
<text class="t" transform="translate(26.42,14.80) scale(0.9961,1)" font-size="12.6" font-weight="bold" font-family='"Liberation Sans", Arial, sans-serif' style="font-kerning:none;font-variant-ligatures:none">A)</text>
<text class="t" transform="translate(14.00,180.84) rotate(-90) scale(0.9690,1)" font-size="12.6" font-weight="bold" font-family='"Liberation Sans", Arial, sans-serif' style="font-kerning:none;font-variant-ligatures:none"><tspan font-style="italic">EDN1</tspan>, fold change</text>
<text class="t" transform="translate(185.51,14.80) scale(1.0132,1)" font-size="12.6" font-weight="bold" font-family='"Liberation Sans", Arial, sans-serif' style="font-kerning:none;font-variant-ligatures:none">B)</text>
<text class="t" transform="translate(167.10,150.87) rotate(-90) scale(1.0000,1)" font-size="12.4" font-weight="bold" font-family='"Liberation Sans", Arial, sans-serif' style="font-kerning:none;font-variant-ligatures:none">ET-1, pg/ml</text>
<text class="t" transform="translate(349.90,16.30) scale(0.9982,1)" font-size="12.6" font-weight="bold" font-family='"Liberation Sans", Arial, sans-serif' style="font-kerning:none;font-variant-ligatures:none">C)</text>
<text class="t" transform="translate(337.30,161.88) rotate(-90) scale(1.0169,1)" font-size="12.4" font-weight="bold" font-family='"Liberation Sans", Arial, sans-serif' style="font-kerning:none;font-variant-ligatures:none">ET-1, pg/ml</text>
<text class="t" transform="translate(35.21,256.50) scale(1.0132,1)" font-size="12.6" font-weight="bold" font-family='"Liberation Sans", Arial, sans-serif' style="font-kerning:none;font-variant-ligatures:none">D)</text>
<text class="t" transform="translate(25.40,372.17) rotate(-90) scale(0.9840,1)" font-size="12.5" font-weight="bold" font-family='"Liberation Sans", Arial, sans-serif' style="font-kerning:none;font-variant-ligatures:none">Sensitivity, %</text>
<text class="t" transform="translate(89.26,460.20) scale(0.9906,1)" font-size="12.5" font-weight="bold" font-family='"Liberation Sans", Arial, sans-serif' style="font-kerning:none;font-variant-ligatures:none">100%- Specificity, %</text>
<text class="t" transform="translate(92.83,480.80) scale(0.9920,1)" font-size="12.5" font-weight="bold" font-family='"Liberation Sans", Arial, sans-serif' style="font-kerning:none;font-variant-ligatures:none">HAPE-f vs. HAPE-p</text>
<text class="t" transform="translate(79.43,422.00) scale(1.0153,1)" font-size="12.0" font-weight="bold" font-family='"Liberation Sans", Arial, sans-serif' style="font-kerning:none;font-variant-ligatures:none">AUC= 0.67</text>
<text class="t" transform="translate(144.38,422.00) scale(1.0351,1)" font-size="12.0" font-weight="bold" font-family='"Liberation Sans", Arial, sans-serif' style="font-kerning:none;font-variant-ligatures:none">(0.59-0.75)</text>
<text class="t" transform="translate(238.72,257.80) scale(0.9921,1)" font-size="12.6" font-weight="bold" font-family='"Liberation Sans", Arial, sans-serif' style="font-kerning:none;font-variant-ligatures:none">E)</text>
<text class="t" transform="translate(228.00,378.47) rotate(-90) scale(0.9903,1)" font-size="12.5" font-weight="bold" font-family='"Liberation Sans", Arial, sans-serif' style="font-kerning:none;font-variant-ligatures:none">Sensitivity, %</text>
<text class="t" transform="translate(283.36,463.00) scale(0.9838,1)" font-size="12.5" font-weight="bold" font-family='"Liberation Sans", Arial, sans-serif' style="font-kerning:none;font-variant-ligatures:none">100%- Specificity, %</text>
<text class="t" transform="translate(297.54,485.00) scale(0.9868,1)" font-size="12.5" font-weight="bold" font-family='"Liberation Sans", Arial, sans-serif' style="font-kerning:none;font-variant-ligatures:none">HLs vs. HAPE-p</text>
<text class="t" transform="translate(269.64,430.20) scale(1.0098,1)" font-size="12.0" font-weight="bold" font-family='"Liberation Sans", Arial, sans-serif' style="font-kerning:none;font-variant-ligatures:none">AUC= 0.93</text>
<text class="t" transform="translate(335.29,430.20) scale(1.0195,1)" font-size="12.0" font-weight="bold" font-family='"Liberation Sans", Arial, sans-serif' style="font-kerning:none;font-variant-ligatures:none">(0.89-0.97)</text>
<text class="t" transform="translate(487.05,373.00) scale(1.0003,1)" font-size="12.3" font-weight="bold" font-family='"Liberation Serif", "Times New Roman", serif' style="font-kerning:none;font-variant-ligatures:none">HAPE-f</text>
<text class="t" transform="translate(487.05,392.50) scale(1.0134,1)" font-size="12.3" font-weight="bold" font-family='"Liberation Serif", "Times New Roman", serif' style="font-kerning:none;font-variant-ligatures:none">HAPE-p</text>
<text class="t" transform="translate(487.46,410.50) scale(0.9901,1)" font-size="12.3" font-weight="bold" font-family='"Liberation Serif", "Times New Roman", serif' style="font-kerning:none;font-variant-ligatures:none">HLs</text>
<text class="t" transform="translate(487.25,429.70) scale(1.0089,1)" font-size="12.3" font-weight="bold" font-family='"Liberation Serif", "Times New Roman", serif' style="font-kerning:none;font-variant-ligatures:none">HAPE-p</text>
</svg></body></html>
